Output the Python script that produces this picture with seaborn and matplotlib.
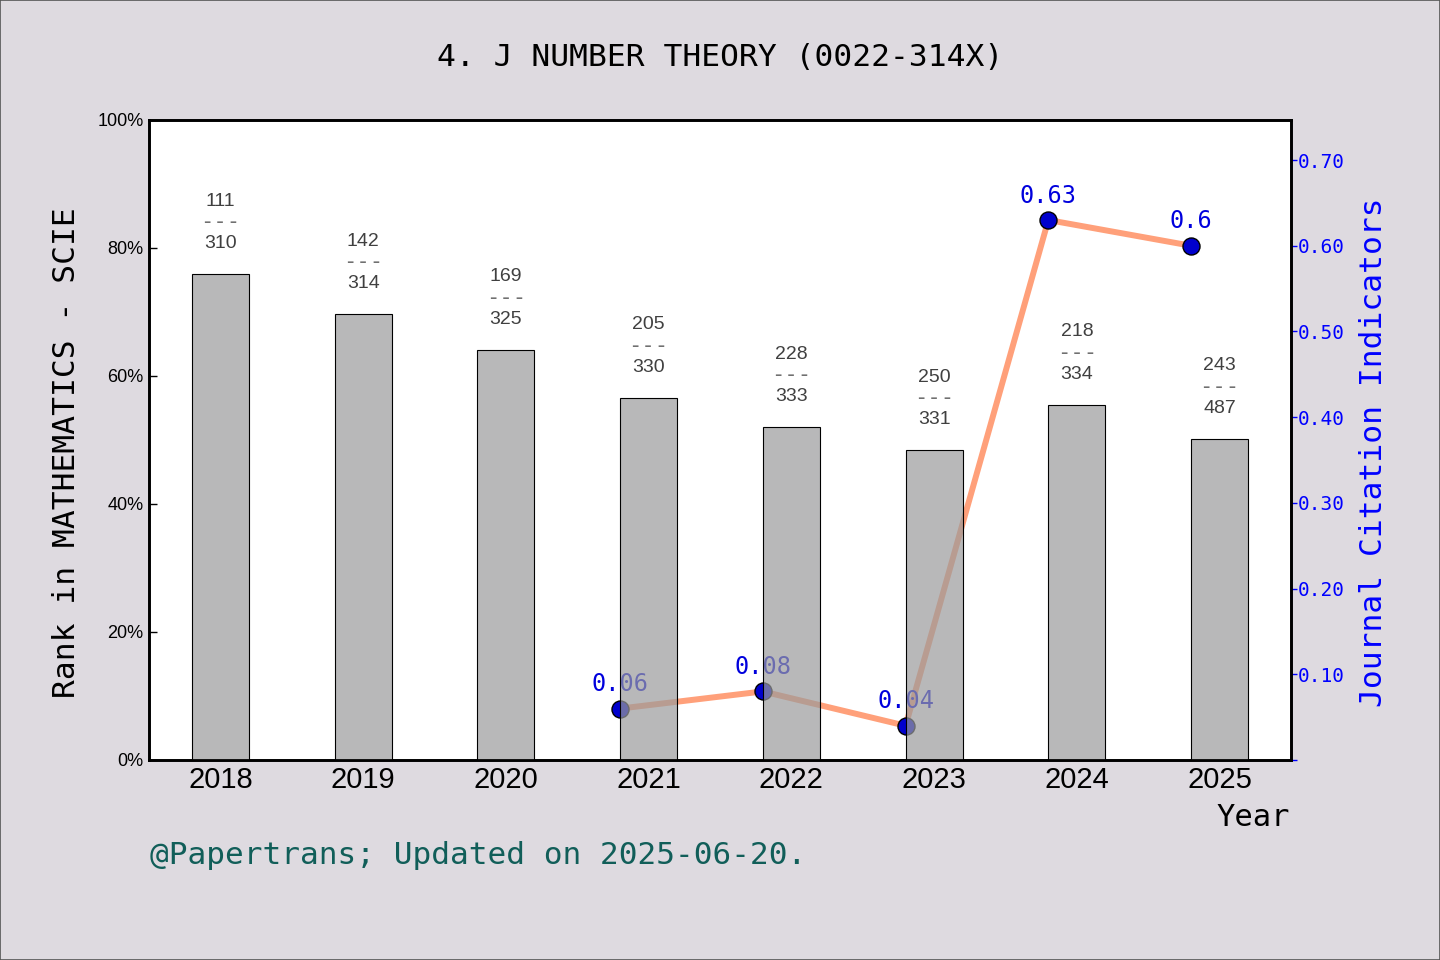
import matplotlib
matplotlib.use("Agg")
import matplotlib.pyplot as plt
import seaborn as sns
import numpy as np
from matplotlib.ticker import FixedLocator

# ---------------- data ----------------
years = ["2018", "2019", "2020", "2021", "2022", "2023", "2024", "2025"]
rank_pct = [75.9, 69.7, 64.1, 56.6, 52.0, 48.4, 55.5, 50.2]
rank = [111, 142, 169, 205, 228, 250, 218, 243]
total = [310, 314, 325, 330, 333, 331, 334, 487]
jci_years = ["2021", "2022", "2023", "2024", "2025"]
jci = [0.06, 0.08, 0.04, 0.63, 0.60]
jci_labels = ["0.06", "0.08", "0.04", "0.63", "0.6"]
left_ticks = [0, 20, 40, 60, 80, 100]
right_ticks = [0.0, 0.1, 0.2, 0.3, 0.4, 0.5, 0.6, 0.7]

title = "4. J NUMBER THEORY (0022-314X)"
footer = "@Papertrans; Updated on 2025-06-20."

# ---------------- style ----------------
sns.set_theme(style="white")
plt.rcParams["font.family"] = ["Liberation Sans", "DejaVu Sans"]
MONO = ["DejaVu Sans Mono"]
BG = "#DEDAE0"
BAR_W = 0.4

fig = plt.figure(figsize=(14.4, 9.6), dpi=100, facecolor=BG)
fig.patches.append(plt.Rectangle((0, 0), 1, 1, transform=fig.transFigure,
                                 fill=False, edgecolor="#555555", linewidth=1.2))
ax = fig.add_axes([149 / 1440, 1 - 760 / 960, (1291 - 149) / 1440, (760 - 120) / 960])
ax2 = ax.twinx()
ax.set_zorder(2)
ax2.set_zorder(1)
ax.patch.set_visible(False)
ax2.patch.set_facecolor("white")
ax2.patch.set_visible(True)

# bars
sns.barplot(x=years, y=rank_pct, color="#9A9B9C", saturation=1, width=BAR_W,
            edgecolor="black", linewidth=0.8, ax=ax)
for patch in ax.patches:
    patch.set_facecolor((154 / 255, 155 / 255, 156 / 255, 0.7))
    patch.set_edgecolor("black")
ax.set_xlim(-0.5, len(years) - 0.5)
ax.set_ylim(0, 100)

for i, (p, r, t) in enumerate(zip(rank_pct, rank, total)):
    ax.annotate(f"{t}", xy=(i, p), xytext=(0, 22), textcoords="offset points",
                ha="center", va="center", fontsize=14, color="#404040")
    ax.annotate("---", xy=(i, p), xytext=(0, 37.5), textcoords="offset points",
                ha="center", va="center", fontsize=16, color="#707070", family=MONO)
    ax.annotate(f"{r}", xy=(i, p), xytext=(0, 52.5), textcoords="offset points",
                ha="center", va="center", fontsize=14, color="#404040")

# line on secondary axis (points sit at the left edge of each bar)
xpos = [years.index(y) - BAR_W / 2 for y in jci_years]
sns.lineplot(x=xpos, y=jci, ax=ax2, color="#FFA07A", linewidth=4.3, zorder=2)
ax2.scatter(xpos, jci, s=150, color="#0000CD", edgecolor="black", linewidth=1, zorder=3)
for x, v, lab in zip(xpos, jci, jci_labels):
    ax2.annotate(lab, xy=(x, v), xytext=(0, 9), textcoords="offset points",
                 ha="center", va="bottom", fontsize=17, color="#0000DD", family=MONO)
ax2.set_ylim(0, 0.7467)
ax.set_xlim(-0.5, len(years) - 0.5)

# axes formatting
ax.set_xlabel("")
ax.set_ylabel("")
ax2.set_ylabel("")
ax.set_yticks(left_ticks)
ax.set_yticklabels([f"{t}%" for t in left_ticks])
ax.tick_params(axis="y", direction="in", length=6, width=1, labelsize=13, colors="black", pad=4)
ax.set_xticks(range(len(years)))
ax.set_xticklabels(years)
ax.tick_params(axis="x", which="major", length=0, labelsize=21, pad=4, labelcolor="black")
ax.xaxis.set_minor_locator(FixedLocator(np.arange(0.5, len(years) - 0.5, 1)))
ax.tick_params(axis="x", which="minor", direction="in", length=5, width=1, color="black")

ax2.set_yticks(right_ticks)
ax2.set_yticklabels([""] + [f"{t:.2f}" for t in right_ticks[1:]], family=MONO)
ax2.tick_params(axis="y", direction="out", length=4, width=1, colors="#0000FF",
                labelsize=14, pad=1)

for a in (ax, ax2):
    for s in a.spines.values():
        s.set_visible(True)
        s.set_color("black")
        s.set_linewidth(1.9)

# texts
fig.text(720 / 1440, 1 - 57 / 960, title, ha="center", va="center", fontsize=22.5,
         family=MONO, color="black")
fig.text(67 / 1440, 1 - 453 / 960, "Rank in MATHEMATICS - SCIE", rotation=90,
         ha="center", va="center", fontsize=22.5, family=MONO, color="black")
fig.text(1373 / 1440, 1 - 452 / 960, "Journal Citation Indicators", rotation=90,
         ha="center", va="center", fontsize=22.5, family=MONO, color="#0000FF")
fig.text(1290 / 1440, 1 - 817 / 960, "Year", ha="right", va="center", fontsize=22,
         family=MONO, color="black")
fig.text(150 / 1440, 1 - 855 / 960, footer, ha="left", va="center", fontsize=22.4,
         family=MONO, color="#115E59")

fig.savefig("out.png", dpi=100, facecolor=BG)
